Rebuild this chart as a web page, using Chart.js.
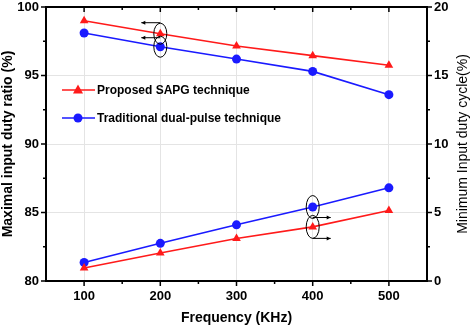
<!DOCTYPE html>
<html>
<head>
<meta charset="utf-8">
<script src="https://cdn.jsdelivr.net/npm/chart.js@4"></script>
<style>
  html, body { margin: 0; padding: 0; background: #fff; }
  #wrap { width: 474px; height: 327px; }
</style>
</head>
<body>
<div id="wrap"><canvas id="freqChart"></canvas></div>
<script>
// frequencies in KHz
const frequencies = [100, 200, 300, 400, 500];
// left axis: maximal input duty ratio (%)
const maxRatioSAPG = [99.0, 98.05, 97.15, 96.45, 95.75];
const maxRatioDual = [98.1, 97.1, 96.2, 95.3, 93.6];
// right axis: minimum input duty cycle (%)
const minCycleSAPG = [0.95, 2.05, 3.1, 3.95, 5.15];
const minCycleDual = [1.35, 2.75, 4.1, 5.4, 6.8];

const legendNames = ['Proposed SAPG technique', 'Traditional dual-pulse technique'];
const rightTitle = 'Minimum Input duty cycle(%)';
const RED = '#ff1a1a';
const BLUE = '#1a1aff';
const FONT = '"Liberation Sans", Arial, sans-serif';

function toPoints(ys) {
  return frequencies.map((f, i) => ({ x: f, y: ys[i] }));
}

function lineSet(label, ys, color, marker, axis) {
  return {
    label: label,
    data: toPoints(ys),
    yAxisID: axis,
    borderColor: color,
    backgroundColor: color,
    borderWidth: 1.6,
    pointStyle: marker,
    pointRadius: marker === 'triangle' ? 5 : 4.5,
    pointBorderWidth: 0,
    tension: 0
  };
}

// draws the frame, the tick marks, the legend, right title and the ellipse/arrow callouts
const decorations = {
  id: 'decorations',
  afterDraw(chart) {
    const ctx = chart.ctx;
    const a = chart.chartArea;
    const x = chart.scales.x;
    const y = chart.scales.y;
    const y1 = chart.scales.y1;
    ctx.save();
    ctx.strokeStyle = '#000';

    // ticks
    ctx.lineWidth = 1.5;
    ctx.beginPath();
    for (let v = 80; v <= 100; v += 2.5) {
      const len = v % 5 === 0 ? 5 : 3;
      const py = y.getPixelForValue(v);
      ctx.moveTo(a.left - len, py); ctx.lineTo(a.left, py);
    }
    for (let v = 0; v <= 20; v += 2.5) {
      const len = v % 5 === 0 ? 5 : 3;
      const py = y1.getPixelForValue(v);
      ctx.moveTo(a.right, py); ctx.lineTo(a.right + len, py);
    }
    for (let v = 100; v <= 500; v += 50) {
      const len = v % 100 === 0 ? 5 : 3;
      const px = x.getPixelForValue(v);
      ctx.moveTo(px, a.bottom); ctx.lineTo(px, a.bottom + len);
      ctx.moveTo(px, a.top); ctx.lineTo(px, a.top + len);
    }
    ctx.stroke();

    // frame
    ctx.lineWidth = 2;
    ctx.strokeRect(a.left, a.top, a.right - a.left, a.bottom - a.top);

    // right axis title, reading bottom to top like the left one
    ctx.save();
    ctx.translate(463, (a.top + a.bottom) / 2);
    ctx.rotate(-Math.PI / 2);
    ctx.font = '14px ' + FONT;
    ctx.fillStyle = '#000';
    ctx.textAlign = 'center';
    ctx.textBaseline = 'middle';
    ctx.fillText(rightTitle, 0, 0);
    ctx.restore();

    // legend
    const items = [
      { name: legendNames[0], color: RED, marker: 'triangle', py: 90 },
      { name: legendNames[1], color: BLUE, marker: 'circle', py: 118 }
    ];
    ctx.font = 'bold 12px ' + FONT;
    ctx.textBaseline = 'middle';
    ctx.textAlign = 'left';
    items.forEach(it => {
      ctx.strokeStyle = it.color;
      ctx.fillStyle = it.color;
      ctx.lineWidth = 1.6;
      ctx.beginPath();
      ctx.moveTo(62, it.py); ctx.lineTo(95, it.py);
      ctx.stroke();
      ctx.beginPath();
      if (it.marker === 'triangle') {
        ctx.moveTo(78, it.py - 5.5); ctx.lineTo(83, it.py + 3.5); ctx.lineTo(73, it.py + 3.5);
        ctx.closePath();
      } else {
        ctx.arc(78, it.py, 4.5, 0, Math.PI * 2);
      }
      ctx.fill();
      ctx.fillStyle = '#000';
      ctx.fillText(it.name, 97, it.py + 1);
    });

    // callouts
    ctx.strokeStyle = '#000';
    ctx.fillStyle = '#000';
    ctx.lineWidth = 1;
    function ellipse(cx, cy, ry) {
      ctx.beginPath();
      ctx.ellipse(cx, cy, 6.5, ry, 0, 0, Math.PI * 2);
      ctx.stroke();
    }
    function arrow(x0, py, x1) {
      ctx.beginPath();
      ctx.moveTo(x0, py); ctx.lineTo(x1, py);
      ctx.stroke();
      const d = x1 < x0 ? 1 : -1;
      ctx.beginPath();
      ctx.moveTo(x1, py); ctx.lineTo(x1 + d * 4, py - 2); ctx.lineTo(x1 + d * 4, py + 2);
      ctx.closePath();
      ctx.fill();
    }
    const x2 = x.getPixelForValue(frequencies[1]);
    const r2 = y.getPixelForValue(maxRatioSAPG[1]);
    const b2 = y.getPixelForValue(maxRatioDual[1]);
    ellipse(x2, r2, 10.5);
    ellipse(x2, b2, 10.5);
    arrow(x2, r2 - 11, x2 - 19);
    arrow(x2, b2 - 9, x2 - 19);

    const x4 = x.getPixelForValue(frequencies[3]);
    const b4 = y1.getPixelForValue(minCycleDual[3]);
    const r4 = y1.getPixelForValue(minCycleSAPG[3]);
    ellipse(x4, b4, 11.5);
    ellipse(x4, r4, 11.5);
    arrow(x4, b4 + 10.5, x4 + 18);
    arrow(x4, r4 + 11.5, x4 + 18);

    ctx.restore();
  }
};

const whiteBg = {
  id: 'whiteBg',
  beforeDraw(chart) {
    const ctx = chart.ctx;
    ctx.save();
    ctx.fillStyle = '#fff';
    ctx.fillRect(0, 0, chart.width, chart.height);
    ctx.restore();
  }
};

const tickFont = { family: FONT, size: 13, weight: 'bold' };

function fitSide(w) {
  return function (s) {
    s.width = w;
    s.paddingTop = 0;
    s.paddingBottom = 0;
  };
}

new Chart(document.getElementById('freqChart'), {
  type: 'line',
  data: {
    datasets: [
      lineSet(legendNames[0], maxRatioSAPG, RED, 'triangle', 'y'),
      lineSet(legendNames[1], maxRatioDual, BLUE, 'circle', 'y'),
      lineSet(legendNames[0], minCycleSAPG, RED, 'triangle', 'y1'),
      lineSet(legendNames[1], minCycleDual, BLUE, 'circle', 'y1')
    ]
  },
  options: {
    responsive: true,
    maintainAspectRatio: false,
    animation: false,
    layout: { padding: { top: 7, left: 0, right: 0, bottom: 0 } },
    plugins: {
      legend: { display: false },
      tooltip: { enabled: false }
    },
    scales: {
      x: {
        type: 'linear',
        min: 50,
        max: 550,
        afterFit(s) { s.height = 46; s.paddingLeft = 0; s.paddingRight = 0; },
        afterBuildTicks(s) { s.ticks = frequencies.map(v => ({ value: v })); },
        ticks: { color: '#000', font: tickFont, padding: 8, maxRotation: 0 },
        grid: { color: '#e4e4e4', drawTicks: false, lineWidth: 1 },
        border: { display: false },
        title: {
          display: true,
          text: 'Frequency (KHz)',
          color: '#000',
          font: { family: FONT, size: 14, weight: 'bold' },
          padding: { top: 0, bottom: 0 }
        }
      },
      y: {
        position: 'left',
        min: 80,
        max: 100,
        afterFit: fitSide(46),
        ticks: { stepSize: 5, color: '#000', font: tickFont, padding: 7 },
        grid: { color: '#e4e4e4', drawTicks: false, lineWidth: 1 },
        border: { display: false },
        title: {
          display: true,
          text: 'Maximal input duty ratio (%)',
          color: '#000',
          font: { family: FONT, size: 14, weight: 'bold' },
          padding: { top: 0, bottom: 0 }
        }
      },
      y1: {
        position: 'right',
        min: 0,
        max: 20,
        afterFit: fitSide(47),
        ticks: { stepSize: 5, color: '#000', font: tickFont, padding: 7 },
        grid: { drawOnChartArea: false, drawTicks: false },
        border: { display: false },
        title: { display: false }
      }
    }
  },
  plugins: [whiteBg, decorations]
});
</script>
</body>
</html>
